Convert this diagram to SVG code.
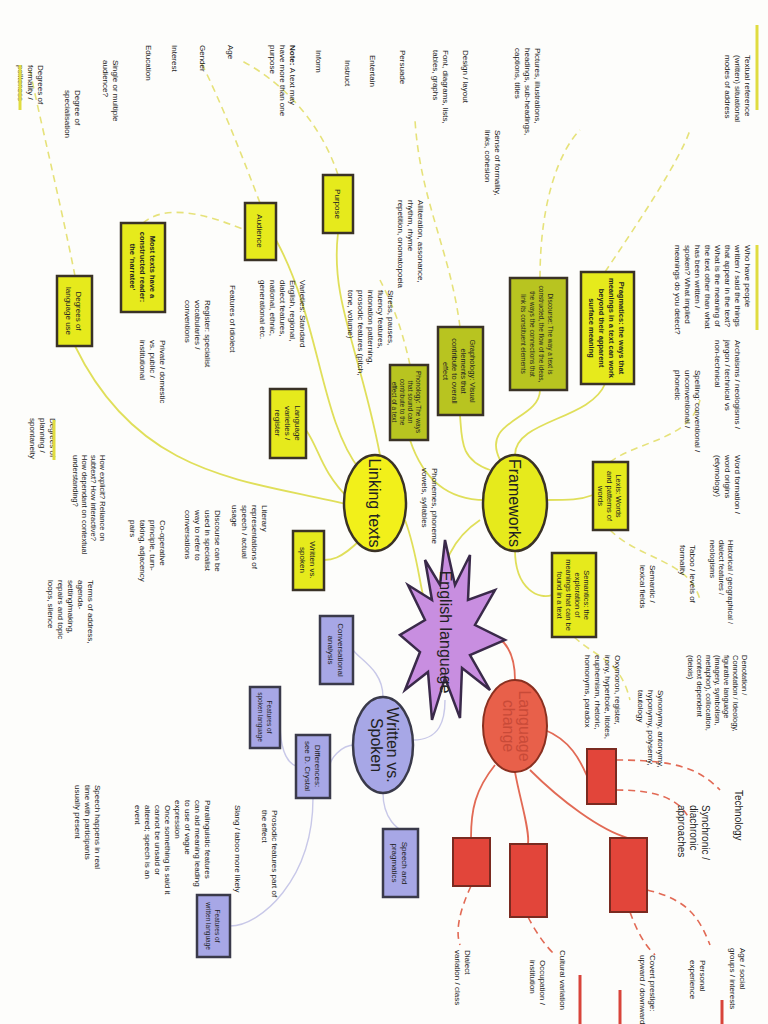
<svg xmlns="http://www.w3.org/2000/svg" width="768" height="1024" viewBox="0 0 768 1024">
<style>
text{font-family:"Liberation Sans",Arial,sans-serif;fill:#222}
.yb{fill:#e6ea1c;stroke:#3a3226;stroke-width:2.5}
.yb2{fill:#b8c420;stroke:#3a3226;stroke-width:2.5}
.pb{fill:#a7a7e6;stroke:#3a3a4a;stroke-width:2.5}
.rb{fill:#e2453a;stroke:#7a2a20;stroke-width:2}
.ys{fill:none;stroke:#e0df5a;stroke-width:1.8}
.yd{fill:none;stroke:#e6e27a;stroke-width:1.6;stroke-dasharray:7 5}
.ps{fill:none;stroke:#c8c8e8;stroke-width:1.4}
.rs{fill:none;stroke:#e26a55;stroke-width:1.8}
.rd{fill:none;stroke:#e26a55;stroke-width:1.6;stroke-dasharray:7 5}
.bar{stroke:#e0dc40;stroke-width:3}
.rbar{stroke:#d8443a;stroke-width:3}
.t{font-size:8px}
.k{font-size:7.5px}
.kb{font-size:7.5px;font-weight:bold}
.r{font-size:10px}
.big{font-size:16px}
</style>
<rect width="768" height="1024" fill="#fdfdfb"/>
<g id="connectors">
<path class="ys" d="M515,455 C515,420 590,420 605,384"/>
<path class="ys" d="M500,460 C480,420 540,420 540,390"/>
<path class="ys" d="M490,470 C460,460 462,440 460,415"/>
<path class="ys" d="M485,500 C440,500 420,470 410,440"/>
<path class="ys" d="M545,500 C570,500 580,500 593,495"/>
<path class="ys" d="M515,550 C515,590 540,600 552,595"/>
<path class="ys" d="M480,520 C450,540 440,570 440,600"/>
<path class="ys" d="M380,455 C360,350 330,300 338,233"/>
<path class="ys" d="M360,470 C320,420 320,320 276,240"/>
<path class="ys" d="M350,500 C320,470 320,450 306,430"/>
<path class="ys" d="M350,505 C250,480 140,480 75,346"/>
<path class="ys" d="M360,540 C340,560 330,560 324,560"/>
<path class="ys" d="M405,520 C420,560 420,600 430,615"/>
<path class="yd" d="M338,175 C320,120 280,80 240,60"/>
<path class="yd" d="M260,203 C240,150 220,100 200,60"/>
<path class="yd" d="M143,223 C170,200 220,220 245,230"/>
<path class="yd" d="M75,276 C60,200 40,120 30,70"/>
<path class="yd" d="M460,327 C450,250 420,200 415,120"/>
<path class="yd" d="M540,278 C540,200 560,150 580,130"/>
<path class="yd" d="M605,272 C640,220 680,160 690,130"/>
<path class="yd" d="M610,462 C640,440 690,440 700,400"/>
<path class="yd" d="M610,530 C640,560 690,560 700,600"/>
<path class="yd" d="M574,637 C600,660 620,660 630,700"/>
<path class="yd" d="M410,365 C400,320 390,300 380,280"/>
<path class="ps" d="M383,697 C383,670 360,660 353,650"/>
<path class="ps" d="M355,745 C340,745 330,760 330,766"/>
<path class="ps" d="M296,766 C280,760 280,730 280,718"/>
<path class="ps" d="M383,793 C383,820 400,830 400,829"/>
<path class="ps" d="M313,798 C313,880 260,926 230,926"/>
<path class="ps" d="M413,740 C440,740 445,720 445,700"/>
<path class="rs" d="M470,630 C510,630 515,660 515,680"/>
<path class="rs" d="M545,730 C570,740 580,760 587,776"/>
<path class="rs" d="M530,770 C560,800 600,830 628,838"/>
<path class="rs" d="M515,772 C520,800 530,830 528,844"/>
<path class="rs" d="M495,765 C475,790 471,810 471,838"/>
<path class="rd" d="M616,760 C680,760 700,770 720,790"/>
<path class="rd" d="M616,790 C660,790 680,800 690,820"/>
<path class="rd" d="M647,890 C690,900 700,920 710,945"/>
<path class="rd" d="M630,912 C640,940 650,950 655,955"/>
<path class="rd" d="M528,917 C540,940 550,950 555,955"/>
<path class="rd" d="M471,886 C460,910 455,930 460,945"/>
</g>
<g id="english-language">
<polygon points="445,540 455,585 470,555 468,600 495,590 475,625 505,640 470,655 490,690 462,668 460,718 445,678 432,720 428,672 405,690 420,652 400,635 425,620 408,585 432,600 425,560 440,585" fill="#c88ee0" stroke="#3a2a4a" stroke-width="2.5"/>
<text class="big" transform="translate(440,632) rotate(90)" text-anchor="middle">English language</text>
</g>
<g id="frameworks"><ellipse cx="515" cy="503" rx="32" ry="48" fill="#e6ea1c" stroke="#3a3226" stroke-width="2.5"/><text class="big" transform="translate(509,503) rotate(90)" text-anchor="middle">Frameworks</text></g>
<g id="linking-texts"><ellipse cx="375" cy="503" rx="31" ry="48" fill="#f2f01a" stroke="#3a3226" stroke-width="2.5"/><text class="big" transform="translate(369,503) rotate(90)" text-anchor="middle">Linking texts</text></g>
<g id="written-spoken"><ellipse cx="383" cy="745" rx="30" ry="48" fill="#a7a7e6" stroke="#3a3a4a" stroke-width="2.5"/><text class="big" transform="translate(383,745) rotate(90)" text-anchor="middle"><tspan x="0" dy="-4">Written vs.</tspan><tspan x="0" dy="16">Spoken</tspan></text></g>
<g id="language-change"><ellipse cx="515" cy="726" rx="32" ry="46" fill="#e8604a" stroke="#8a3020" stroke-width="2"/><text class="big" transform="translate(515,726) rotate(90)" text-anchor="middle" style="fill:#c84a38"><tspan x="0" dy="-4">Language</tspan><tspan x="0" dy="16">change</tspan></text></g>

<g id="pragmatics"><rect class="yb" x="581" y="272" width="53" height="112"/><text class="kb" transform="translate(607,328) rotate(90)" text-anchor="middle"><tspan x="0" dy="-12">Pragmatics: the ways that</tspan><tspan x="0" dy="10">meanings in a text can work</tspan><tspan x="0" dy="10">beyond their apparent</tspan><tspan x="0" dy="10">surface meaning</tspan></text></g>
<g id="discourse"><rect class="yb2" x="510" y="278" width="57" height="112"/><text transform="translate(538,334) rotate(90)" text-anchor="middle" style="font-size:6.5px"><tspan x="0" dy="-10">Discourse: The way a text is</tspan><tspan x="0" dy="9">constructed, the flow of the ideas,</tspan><tspan x="0" dy="9">the ways the connections that</tspan><tspan x="0" dy="9">link its constituent elements</tspan></text></g>
<g id="graphology"><rect class="yb2" x="438" y="327" width="45" height="88"/><text class="k" transform="translate(460,371) rotate(90)" text-anchor="middle"><tspan x="0" dy="-10">Graphology: Visual</tspan><tspan x="0" dy="9">elements that</tspan><tspan x="0" dy="9">contribute to overall</tspan><tspan x="0" dy="9">effect</tspan></text></g>
<g id="phonology"><rect class="yb2" x="390" y="365" width="38" height="75"/><text transform="translate(409,402) rotate(90)" text-anchor="middle" style="font-size:6.5px"><tspan x="0" dy="-7">Phonology: The ways</tspan><tspan x="0" dy="8">that sound can</tspan><tspan x="0" dy="8">contribute to the</tspan><tspan x="0" dy="8">effect of a text</tspan></text></g>
<g id="lexis"><rect class="yb" x="593" y="462" width="35" height="68"/><text class="k" transform="translate(610,496) rotate(90)" text-anchor="middle"><tspan x="0" dy="-6">Lexis: Words</tspan><tspan x="0" dy="9">and patterns of</tspan><tspan x="0" dy="9">words</tspan></text></g>
<g id="semantics"><rect class="yb" x="552" y="553" width="44" height="84"/><text class="k" transform="translate(574,595) rotate(90)" text-anchor="middle"><tspan x="0" dy="-10">Semantics: the</tspan><tspan x="0" dy="9">exploration of</tspan><tspan x="0" dy="9">meanings that can be</tspan><tspan x="0" dy="9">found in a text</tspan></text></g>
<g id="purpose"><rect class="yb" x="323" y="175" width="30" height="58"/><text class="t" transform="translate(338,204) rotate(90)" text-anchor="middle" dy="3">Purpose</text></g>
<g id="audience"><rect class="yb" x="245" y="203" width="31" height="57"/><text class="t" transform="translate(260,231) rotate(90)" text-anchor="middle" dy="3">Audience</text></g>
<g id="constructed-reader"><rect class="yb" x="121" y="223" width="44" height="89"/><text class="kb" transform="translate(143,267) rotate(90)" text-anchor="middle"><tspan x="0" dy="-7">Most texts have a</tspan><tspan x="0" dy="10">constructed reader:</tspan><tspan x="0" dy="10">the 'narratee'</tspan></text></g>
<g id="degrees"><rect class="yb" x="57" y="276" width="35" height="70"/><text class="t" transform="translate(74,311) rotate(90)" text-anchor="middle"><tspan x="0" dy="-2">Degrees of</tspan><tspan x="0" dy="10">language use</tspan></text></g>
<g id="varieties"><rect class="yb" x="270" y="389" width="36" height="69"/><text class="t" transform="translate(288,423) rotate(90)" text-anchor="middle"><tspan x="0" dy="-7">Language</tspan><tspan x="0" dy="10">varieties /</tspan><tspan x="0" dy="10">register</tspan></text></g>
<g id="written-vs-spoken-box"><rect class="yb" x="293" y="531" width="31" height="59"/><text class="t" transform="translate(308,560) rotate(90)" text-anchor="middle"><tspan x="0" dy="-2">Written vs.</tspan><tspan x="0" dy="10">spoken</tspan></text></g>
<g id="conversational"><rect class="pb" x="320" y="616" width="33" height="68"/><text class="t" transform="translate(336,650) rotate(90)" text-anchor="middle"><tspan x="0" dy="-2">Conversational</tspan><tspan x="0" dy="10">analysis</tspan></text></g>
<g id="features-spoken"><rect class="pb" x="250" y="687" width="30" height="61"/><text transform="translate(265,717) rotate(90)" text-anchor="middle" style="font-size:6.5px"><tspan x="0" dy="-2">Features of</tspan><tspan x="0" dy="9">spoken language</tspan></text></g>
<g id="differences"><rect class="pb" x="296" y="735" width="34" height="63"/><text class="t" transform="translate(313,766) rotate(90)" text-anchor="middle"><tspan x="0" dy="-2">Differences:</tspan><tspan x="0" dy="10">see D. Crystal</tspan></text></g>
<g id="speech-pragmatics"><rect class="pb" x="383" y="829" width="35" height="68"/><text class="t" transform="translate(400,863) rotate(90)" text-anchor="middle"><tspan x="0" dy="-2">Speech and</tspan><tspan x="0" dy="10">pragmatics</tspan></text></g>
<g id="features-written"><rect class="pb" x="197" y="895" width="33" height="62"/><text transform="translate(213,926) rotate(90)" text-anchor="middle" style="font-size:6.5px"><tspan x="0" dy="-2">Features of</tspan><tspan x="0" dy="9">written language</tspan></text></g>
<g id="red-1"><rect class="rb" x="587" y="749" width="29" height="55"/></g>
<g id="red-individual"><rect class="rb" x="610" y="838" width="37" height="74"/></g>
<g id="red-social"><rect class="rb" x="510" y="844" width="37" height="73"/></g>
<g id="red-dialect"><rect class="rb" x="453" y="838" width="37" height="48"/></g>

<g id="side-texts">
<text class="t" transform="translate(228,45) rotate(90)">Age</text>
<text class="t" transform="translate(200,45) rotate(90)">Gender</text>
<text class="t" transform="translate(172,45) rotate(90)">Interest</text>
<text class="t" transform="translate(146,45) rotate(90)">Education</text>
<text class="t" transform="translate(113,60) rotate(90)"><tspan x="0">Single or multiple</tspan><tspan x="0" dy="10">audience?</tspan></text>
<text class="t" transform="translate(75,90) rotate(90)"><tspan x="0">Degree of</tspan><tspan x="0" dy="10">specialisation</tspan></text>
<text class="t" transform="translate(38,65) rotate(90)"><tspan x="0">Degrees of</tspan><tspan x="0" dy="10">formality /</tspan><tspan x="0" dy="10">politeness</tspan></text>
<text class="t" transform="translate(316,50) rotate(90)">Inform</text>
<text class="t" transform="translate(345,60) rotate(90)">Instruct</text>
<text class="t" transform="translate(370,55) rotate(90)">Entertain</text>
<text class="t" transform="translate(400,50) rotate(90)">Persuade</text>
<text class="t" transform="translate(290,45) rotate(90)"><tspan x="0" style="font-weight:bold">Note: <tspan style="font-weight:normal">A text may</tspan></tspan><tspan x="0" dy="10">have more than one</tspan><tspan x="0" dy="10">purpose</tspan></text>
<text class="t" transform="translate(463,50) rotate(90)">Design / layout</text>
<text class="t" transform="translate(443,50) rotate(90)"><tspan x="0">Font, diagrams, lists,</tspan><tspan x="0" dy="10">tables, graphs</tspan></text>
<text class="t" transform="translate(535,48) rotate(90)"><tspan x="0">Pictures, illustrations,</tspan><tspan x="0" dy="10">headings, sub-headings,</tspan><tspan x="0" dy="10">captions, titles</tspan></text>
<text class="t" transform="translate(495,130) rotate(90)"><tspan x="0">Sense of formality,</tspan><tspan x="0" dy="10">links, cohesion</tspan></text>
<text class="t" transform="translate(418,200) rotate(90)"><tspan x="0">Alliteration, assonance,</tspan><tspan x="0" dy="10">rhythm, rhyme</tspan><tspan x="0" dy="10">repetition, onomatopoeia</tspan></text>
<text class="t" transform="translate(388,290) rotate(90)"><tspan x="0">Stress, pauses,</tspan><tspan x="0" dy="10">fluency features,</tspan><tspan x="0" dy="10">intonation patterning,</tspan><tspan x="0" dy="10">prosodic features (pitch,</tspan><tspan x="0" dy="10">tone, volume)</tspan></text>
<text class="t" transform="translate(300,280) rotate(90)"><tspan x="0">Varieties: Standard</tspan><tspan x="0" dy="10">English, regional,</tspan><tspan x="0" dy="10">dialect features,</tspan><tspan x="0" dy="10">national, ethnic,</tspan><tspan x="0" dy="10">generational etc.</tspan></text>
<text class="t" transform="translate(230,285) rotate(90)">Features of idiolect</text>
<text class="t" transform="translate(205,300) rotate(90)"><tspan x="0">Register: specialist</tspan><tspan x="0" dy="10">vocabularies /</tspan><tspan x="0" dy="10">conventions</tspan></text>
<text class="t" transform="translate(160,340) rotate(90)"><tspan x="0">Private / domestic</tspan><tspan x="0" dy="10">vs. public /</tspan><tspan x="0" dy="10">institutional</tspan></text>
<text class="t" transform="translate(50,418) rotate(90)"><tspan x="0">Degrees of</tspan><tspan x="0" dy="10">planning /</tspan><tspan x="0" dy="10">spontaneity</tspan></text>
<text class="k" transform="translate(100,455) rotate(90)"><tspan x="0">How explicit? Reliance on</tspan><tspan x="0" dy="9">subtext? How interactive?</tspan><tspan x="0" dy="9">How dependant on contextual</tspan><tspan x="0" dy="9">understanding?</tspan></text>
<text class="t" transform="translate(262,505) rotate(90)"><tspan x="0">Literary</tspan><tspan x="0" dy="10">representations of</tspan><tspan x="0" dy="10">speech / actual</tspan><tspan x="0" dy="10">usage</tspan></text>
<text class="t" transform="translate(215,510) rotate(90)"><tspan x="0">Discourse can be</tspan><tspan x="0" dy="10">used in specialist</tspan><tspan x="0" dy="10">way to refer to</tspan><tspan x="0" dy="10">conversations</tspan></text>
<text class="t" transform="translate(160,520) rotate(90)"><tspan x="0">Co-operative</tspan><tspan x="0" dy="10">principle, turn-</tspan><tspan x="0" dy="10">taking, adjacency</tspan><tspan x="0" dy="10">pairs</tspan></text>
<text class="t" transform="translate(88,580) rotate(90)"><tspan x="0">Terms of address,</tspan><tspan x="0" dy="10">agenda-</tspan><tspan x="0" dy="10">setting/making,</tspan><tspan x="0" dy="10">repairs and topic</tspan><tspan x="0" dy="10">loops, silence</tspan></text>
<text class="t" transform="translate(432,468) rotate(90)"><tspan x="0">Phonemes, phoneme</tspan><tspan x="0" dy="10">vowels, syllables</tspan></text>
<text class="t" transform="translate(735,455) rotate(90)"><tspan x="0">Word formation /</tspan><tspan x="0" dy="10">word origins</tspan><tspan x="0" dy="10">(etymology)</tspan></text>
<text class="k" transform="translate(728,540) rotate(90)"><tspan x="0">Historical / geographical /</tspan><tspan x="0" dy="9">dialect features /</tspan><tspan x="0" dy="9">neologisms</tspan></text>
<text class="t" transform="translate(690,545) rotate(90)"><tspan x="0">Taboo / levels of</tspan><tspan x="0" dy="10">formality</tspan></text>
<text class="t" transform="translate(650,565) rotate(90)"><tspan x="0">Semantic /</tspan><tspan x="0" dy="10">lexical fields</tspan></text>
<text class="t" transform="translate(735,340) rotate(90)"><tspan x="0">Archaisms / neologisms /</tspan><tspan x="0" dy="10">jargon / technical vs</tspan><tspan x="0" dy="10">non-technical</tspan></text>
<text class="t" transform="translate(695,370) rotate(90)"><tspan x="0">Spelling: conventional /</tspan><tspan x="0" dy="10">unconventional /</tspan><tspan x="0" dy="10">phonetic</tspan></text>
<text class="t" transform="translate(745,245) rotate(90)"><tspan x="0">Who have people</tspan><tspan x="0" dy="10">written / said the things</tspan><tspan x="0" dy="10">that appear in the text?</tspan><tspan x="0" dy="10">What is the meaning of</tspan><tspan x="0" dy="10">the text other than what</tspan><tspan x="0" dy="10">has been written /</tspan><tspan x="0" dy="10">spoken? What implied</tspan><tspan x="0" dy="10">meanings do you detect?</tspan></text>
<text class="t" transform="translate(745,55) rotate(90)"><tspan x="0">Textual reference</tspan><tspan x="0" dy="10">(written) situational</tspan><tspan x="0" dy="10">modes of address</tspan></text>
<text class="k" transform="translate(742,655) rotate(90)"><tspan x="0">Denotation /</tspan><tspan x="0" dy="9">Connotation / Ideology,</tspan><tspan x="0" dy="9">figurative language</tspan><tspan x="0" dy="9">(imagery, symbolism,</tspan><tspan x="0" dy="9">metaphor), collocation,</tspan><tspan x="0" dy="9">context dependent</tspan><tspan x="0" dy="9">(deixis)</tspan></text>
<text class="t" transform="translate(658,690) rotate(90)"><tspan x="0">Synonymy, antonymy,</tspan><tspan x="0" dy="10">hyponymy, polysemy,</tspan><tspan x="0" dy="10">tautology</tspan></text>
<text class="t" transform="translate(615,655) rotate(90)"><tspan x="0">Oxymoron, register,</tspan><tspan x="0" dy="10">irony, hyperbole, litotes,</tspan><tspan x="0" dy="10">euphemism, rhetoric,</tspan><tspan x="0" dy="10">homonyms, paradox</tspan></text>
<text class="r" transform="translate(735,790) rotate(90)">Technology</text>
<text class="r" transform="translate(702,805) rotate(90)"><tspan x="0">Synchronic /</tspan><tspan x="0" dy="12">diachronic</tspan><tspan x="0" dy="12">approaches</tspan></text>
<text class="t" transform="translate(740,948) rotate(90)"><tspan x="0">Age / social</tspan><tspan x="0" dy="10">groups / interests</tspan></text>
<text class="t" transform="translate(700,960) rotate(90)"><tspan x="0">Personal</tspan><tspan x="0" dy="10">experience</tspan></text>
<text class="t" transform="translate(650,955) rotate(90)"><tspan x="0">Covert prestige:</tspan><tspan x="0" dy="10">upward / downward</tspan></text>
<text class="t" transform="translate(560,950) rotate(90)">Cultural variation</text>
<text class="t" transform="translate(540,960) rotate(90)"><tspan x="0">Occupation /</tspan><tspan x="0" dy="10">institution</tspan></text>
<text class="t" transform="translate(465,950) rotate(90)"><tspan x="0">Dialect</tspan><tspan x="0" dy="10">variation / class</tspan></text>
<text class="t" transform="translate(272,810) rotate(90)"><tspan x="0">Prosodic features part of</tspan><tspan x="0" dy="10">the effect</tspan></text>
<text class="t" transform="translate(235,805) rotate(90)">Slang / taboo more likely</text>
<text class="t" transform="translate(205,800) rotate(90)"><tspan x="0">Paralinguistic features</tspan><tspan x="0" dy="10">can aid meaning leading</tspan><tspan x="0" dy="10">to use of vague</tspan><tspan x="0" dy="10">expression</tspan></text>
<text class="t" transform="translate(165,805) rotate(90)"><tspan x="0">Once something is said it</tspan><tspan x="0" dy="10">cannot be unsaid or</tspan><tspan x="0" dy="10">altered; speech is an</tspan><tspan x="0" dy="10">event</tspan></text>
<text class="t" transform="translate(95,785) rotate(90)"><tspan x="0">Speech happens in real</tspan><tspan x="0" dy="10">time with participants</tspan><tspan x="0" dy="10">usually present</tspan></text>
</g>
<g id="side-bars">
<line class="bar" x1="20" y1="65" x2="20" y2="110"/>
<line class="bar" x1="54" y1="420" x2="54" y2="460"/>
<line class="bar" x1="757" y1="25" x2="757" y2="110"/>
<line class="bar" x1="757" y1="245" x2="757" y2="330"/>
<line class="rbar" x1="580" y1="975" x2="580" y2="1024"/>
<line class="rbar" x1="620" y1="990" x2="620" y2="1024"/>
<line class="rbar" x1="722" y1="1000" x2="722" y2="1024"/>
</g>
</svg>
